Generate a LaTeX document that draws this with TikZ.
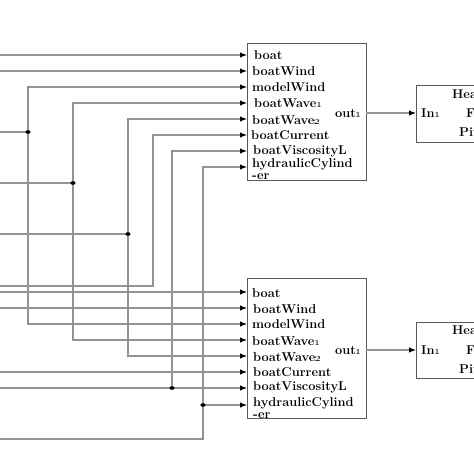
\documentclass[tikz,border=0pt]{standalone}
\usepackage{amsmath}
\usepackage{tikz}
\usetikzlibrary{arrows.meta}
\tikzset{
  sig/.style={draw=gray!85, line width=1.1pt},
  sigin/.style={sig, -{Latex[black,length=7pt,width=5.5pt]}},
  blk/.style={draw=black!65, line width=1.2pt, anchor=north west, inner sep=0pt},
  lbl/.style={anchor=west, inner sep=0pt, font=\fontsize{12.8}{11.5}\selectfont\bfseries},
  dot/.style={fill=black}
}
\newcommand{\os}[1]{\oldstylenums{#1}}

\begin{document}
\begin{tikzpicture}[x=1pt, y=-1pt]
\useasboundingbox (0,0) rectangle (474,474);
% subsystem blocks
\node[blk, minimum width=119pt, minimum height=137pt] (sysA) at (247,43) {};
\node[blk, minimum width=119pt, minimum height=140pt] (sysB) at (247,278) {};
\node[blk, minimum width=80pt, minimum height=57pt] (dispA) at (416,85) {};
\node[blk, minimum width=80pt, minimum height=56pt] (dispB) at (416,322) {};
% input ports
\foreach \i/\ya/\yb in {1/55/292, 2/71/308, 3/87/324, 4/103/340, 5/119/356, 6/135/372, 7/151/388, 8/167/405} {
  \coordinate (pA\i) at (247,\ya);
  \coordinate (pB\i) at (247,\yb);
}
\coordinate (oA) at (366,113);
\coordinate (oB) at (366,350);
\coordinate (iA) at (416,113);
\coordinate (iB) at (416,350);
% port labels
\node[lbl] at (254,55) {boat};
\node[lbl] at (252,71) {boatWind};
\node[lbl] at (252,87) {modelWind};
\node[lbl] at (254,103) {boatWave\os{1}};
\node[lbl] at (252,120) {boatWave\os{2}};
\node[lbl] at (251,135) {boatCurrent};
\node[lbl] at (253,151) {boatViscosityL};
\node[lbl, align=left] at (252,169) {hydraulicCylind\\-er};
\node[lbl, anchor=east] at (362,113) {out\os{1}};
\node[lbl] at (252,293) {boat};
\node[lbl] at (253,309) {boatWind};
\node[lbl] at (252,324) {modelWind};
\node[lbl] at (252,341) {boatWave\os{1}};
\node[lbl] at (253,357) {boatWave\os{2}};
\node[lbl] at (253,372) {boatCurrent};
\node[lbl] at (253,387) {boatViscosityL};
\node[lbl, align=left] at (253,408) {hydraulicCylind\\-er};
\node[lbl, anchor=east] at (362,350) {out\os{1}};
\node[lbl] at (421,113) {In\os{1}};
\node[lbl] at (452,94) {Heave};
\node[lbl] at (466,113) {F};
\node[lbl] at (459,132) {Pitch};
\node[lbl] at (421,350) {In\os{1}};
\node[lbl] at (452,330) {Heave};
\node[lbl] at (466,350) {F};
\node[lbl] at (459,369) {Pitch};
% sources and branch points
\coordinate (s1) at (0,55);
\coordinate (s2) at (0,71);
\coordinate (s3) at (0,132);
\coordinate (s4) at (0,183);
\coordinate (s5) at (0,234);
\coordinate (s6) at (0,286);
\coordinate (s7) at (0,292);
\coordinate (s8) at (0,308);
\coordinate (s9) at (0,372);
\coordinate (s10) at (0,388);
\coordinate (s11) at (0,439);
\coordinate (j3) at (28,132);
\coordinate (j4) at (73,183);
\coordinate (j5) at (128,234);
\coordinate (c6) at (153,286);
\coordinate (j7) at (172,388);
\coordinate (j8) at (203,405);
\coordinate (c8) at (203,439);
% connectors
\draw[sigin] (s1) -- (pA1);
\draw[sigin] (s2) -- (pA2);
\draw[sig] (s3) -- (j3);
\draw[sigin] (j3) |- (pA3);
\draw[sigin] (j3) |- (pB3);
\draw[sig] (s4) -- (j4);
\draw[sigin] (j4) |- (pA4);
\draw[sigin] (j4) |- (pB4);
\draw[sig] (s5) -- (j5);
\draw[sigin] (j5) |- (pA5);
\draw[sigin] (j5) |- (pB5);
\draw[sigin] (s6) -- (c6) |- (pA6);
\draw[sigin] (s7) -- (pB1);
\draw[sigin] (s8) -- (pB2);
\draw[sigin] (s9) -- (pB6);
\draw[sigin] (s10) -- (pB7);
\draw[sigin] (j7) |- (pA7);
\draw[sig] (s11) -- (c8) -- (j8);
\draw[sigin] (j8) -- (pB8);
\draw[sigin] (j8) |- (pA8);
\draw[sigin] (oA) -- (iA);
\draw[sigin] (oB) -- (iB);
% junction dots
\foreach \j in {j3,j4,j5,j7,j8}
  \fill[dot] (\j) ellipse (2.6pt and 1.8pt);
\end{tikzpicture}
\end{document}
